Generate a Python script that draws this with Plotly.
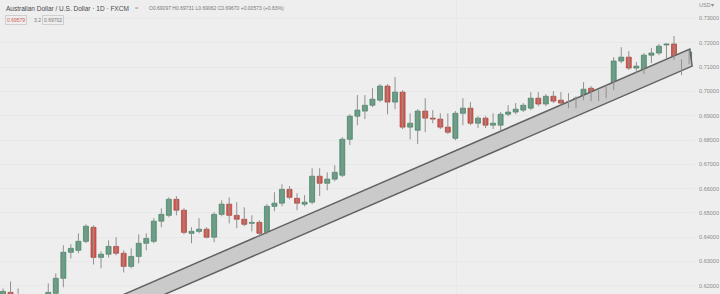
import plotly.graph_objects as go

# ---- data (AUD/USD daily candles) ----
opens = [0.6148,0.6173,0.6156,0.6128,0.6091,0.6128,0.6140,0.6169,0.6231,0.6338,
         0.6346,0.6383,0.6441,0.6317,0.6330,0.6362,0.6334,0.6280,0.6321,0.6375,
         0.6383,0.6466,0.6490,0.6556,0.6511,0.6416,0.6424,0.6433,0.6400,0.6494,
         0.6536,0.6490,0.6474,0.6457,0.6461,0.6420,0.6527,0.6540,0.6597,0.6560,
         0.6536,0.6544,0.6651,0.6622,0.6639,0.6655,0.6803,0.6898,0.6919,0.6943,
         0.6964,0.7022,0.6956,0.6997,0.6853,0.6840,0.6919,0.6890,0.6886,0.6853,
         0.6807,0.6910,0.6931,0.6869,0.6890,0.6861,0.6861,0.6906,0.6915,0.6923,
         0.6931,0.6972,0.6948,0.6980,0.6964,0.6956,0.6939,0.6972,0.7013,0.6968,
         0.6980,0.7013,0.7125,0.7141,0.7096,0.7079,0.7149,0.7158,0.7191,0.7195,
         0.7129,0.7121]
highs = [0.6189,0.6218,0.6189,0.6148,0.6156,0.6161,0.6210,0.6251,0.6367,0.6371,
         0.6416,0.6453,0.6449,0.6342,0.6387,0.6400,0.6346,0.6354,0.6412,0.6416,
         0.6478,0.6519,0.6564,0.6569,0.6519,0.6441,0.6478,0.6441,0.6503,0.6552,
         0.6564,0.6544,0.6523,0.6490,0.6470,0.6536,0.6585,0.6618,0.6610,0.6581,
         0.6573,0.6684,0.6684,0.6667,0.6696,0.6812,0.6906,0.6985,0.6985,0.7013,
         0.7030,0.7030,0.7059,0.7005,0.6910,0.6927,0.6972,0.6923,0.6910,0.6910,
         0.6919,0.6972,0.6956,0.6898,0.6898,0.6910,0.6915,0.6943,0.6952,0.6952,
         0.6997,0.6997,0.6989,0.7001,0.6997,0.6993,0.6980,0.7038,0.7022,0.7005,
         0.7026,0.7141,0.7182,0.7166,0.7121,0.7158,0.7178,0.7195,0.7199,0.7228,
         0.7133,0.7170]
lows = [0.6132,0.6124,0.6107,0.6074,0.6066,0.6107,0.6124,0.6156,0.6194,0.6313,
        0.6334,0.6375,0.6288,0.6272,0.6317,0.6325,0.6255,0.6272,0.6292,0.6346,
        0.6375,0.6441,0.6482,0.6490,0.6412,0.6375,0.6416,0.6395,0.6379,0.6486,
        0.6457,0.6437,0.6445,0.6424,0.6400,0.6412,0.6507,0.6527,0.6556,0.6511,
        0.6527,0.6536,0.6569,0.6593,0.6630,0.6647,0.6779,0.6861,0.6886,0.6935,
        0.6956,0.6906,0.6927,0.6845,0.6803,0.6783,0.6832,0.6869,0.6845,0.6824,
        0.6799,0.6861,0.6861,0.6849,0.6849,0.6845,0.6836,0.6898,0.6906,0.6915,
        0.6923,0.6939,0.6939,0.6952,0.6943,0.6931,0.6931,0.6964,0.6960,0.6960,
        0.6972,0.7005,0.7116,0.7088,0.7075,0.7071,0.7116,0.7149,0.7133,0.7129,
        0.7067,0.7112]
closes = [0.6177,0.6140,0.6124,0.6091,0.6140,0.6152,0.6173,0.6231,0.6338,0.6354,
          0.6383,0.6445,0.6317,0.6330,0.6362,0.6334,0.6280,0.6321,0.6375,0.6395,
          0.6466,0.6494,0.6556,0.6511,0.6420,0.6424,0.6433,0.6400,0.6494,0.6536,
          0.6490,0.6474,0.6453,0.6461,0.6416,0.6527,0.6540,0.6597,0.6564,0.6540,
          0.6544,0.6651,0.6622,0.6639,0.6667,0.6803,0.6898,0.6923,0.6943,0.6968,
          0.7022,0.6956,0.6997,0.6853,0.6869,0.6919,0.6890,0.6886,0.6853,0.6832,
          0.6910,0.6931,0.6869,0.6890,0.6861,0.6869,0.6906,0.6915,0.6927,0.6943,
          0.6972,0.6948,0.6980,0.6960,0.6952,0.6939,0.6972,0.7009,0.6968,0.6997,
          0.7018,0.7125,0.7141,0.7096,0.7104,0.7149,0.7158,0.7186,0.7195,0.7137,
          0.7121,0.7162]

# trend channel anchors (bar index, price)
trend_x = [14.2, 91.1, 91.4, 19.6]
trend_price = [0.6140, 0.7174, 0.7104, 0.6140]

price_ticks = [0.62, 0.63, 0.64, 0.65, 0.66, 0.67, 0.68, 0.69, 0.70, 0.71, 0.72, 0.73]
price_labels = ["%.5f" % v for v in price_ticks]

title_text = "Australian Dollar / U.S. Dollar · 1D · FXCM"
ohlc_text = "O0.69097 H0.69731 L0.69062 C0.69670 +0.00573 (+0.83%)"

GREEN, GREEN_L = "#62a083", "#3f7d5f"
RED, RED_L = "#d55a50", "#a83d35"

idx = list(range(len(opens)))
up = [c >= o for o, c in zip(opens, closes)]
body_base = [min(o, c) for o, c in zip(opens, closes)]
body_h = [max(abs(c - o), 0.00012) for o, c in zip(opens, closes)]

wx, wy = [], []
for i, h, l in zip(idx, highs, lows):
    wx += [i, i, None]
    wy += [l, h, None]

fig = go.Figure()
fig.add_trace(go.Scatter(x=trend_x + [trend_x[0]], y=trend_price + [trend_price[0]],
                         mode="lines", fill="toself", fillcolor="#cacaca",
                         line=dict(color="#626262", width=1.5), hoverinfo="skip"))
fig.add_trace(go.Scatter(x=wx, y=wy, mode="lines",
                         line=dict(color="#909090", width=1), hoverinfo="skip"))
fig.add_trace(go.Bar(x=idx, y=body_h, base=body_base, width=0.66,
                     marker=dict(color=[GREEN if u else RED for u in up],
                                 line=dict(color=[GREEN_L if u else RED_L for u in up], width=0.7))))

fig.update_layout(
    width=720, height=294, margin=dict(l=0, r=26, t=0, b=0),
    paper_bgcolor="#eeeeee", plot_bgcolor="#eeeeee", showlegend=False,
    barmode="overlay",
    font=dict(family="Liberation Sans, Arial, sans-serif"),
    xaxis=dict(range=[-0.4, 91.65], showticklabels=False, zeroline=False,
               showgrid=True, gridcolor="#e8e8e8", gridwidth=1,
               tickvals=[60.2], ticks=""),
    yaxis=dict(side="right", range=[0.61663, 0.73761], tickvals=price_ticks, ticktext=price_labels,
               tickfont=dict(size=5.5, color="#8a8a8a"), showgrid=True, gridcolor="#e8e8e8",
               zeroline=False, ticks="outside", ticklen=3, tickcolor="rgba(0,0,0,0)"),
    annotations=[
        dict(x=4/694, y=1-8/294, xref="paper", yref="paper", text=title_text, showarrow=False,
             xanchor="left", yanchor="middle", font=dict(size=6.5, color="#4a4a4a")),
        dict(x=147/694, y=1-8/294, xref="paper", yref="paper", text=ohlc_text, showarrow=False,
             xanchor="left", yanchor="middle", font=dict(size=5, color="#777777")),
        dict(x=137/694, y=1-8/294, xref="paper", yref="paper", text="≈", showarrow=False,
             xanchor="center", yanchor="middle", font=dict(size=6, color="#888888")),
        dict(x=5/694, y=1-20/294, xref="paper", yref="paper", text="0.69579", showarrow=False,
             xanchor="left", yanchor="middle", font=dict(size=5, color="#d65a50"),
             bordercolor="#cfcfcf", borderwidth=1, borderpad=1),
        dict(x=32/694, y=1-20/294, xref="paper", yref="paper", text="3.2", showarrow=False,
             xanchor="left", yanchor="middle", font=dict(size=5, color="#777777")),
        dict(x=42/694, y=1-20/294, xref="paper", yref="paper", text="0.69702", showarrow=False,
             xanchor="left", yanchor="middle", font=dict(size=5, color="#777777"),
             bordercolor="#cfcfcf", borderwidth=1, borderpad=1),
        dict(x=697/694, y=1-5/294, xref="paper", yref="paper", text="USD▾", showarrow=False,
             xanchor="left", yanchor="middle", font=dict(size=5.5, color="#8a8a8a")),
    ],
)

fig.write_html("out.html")
